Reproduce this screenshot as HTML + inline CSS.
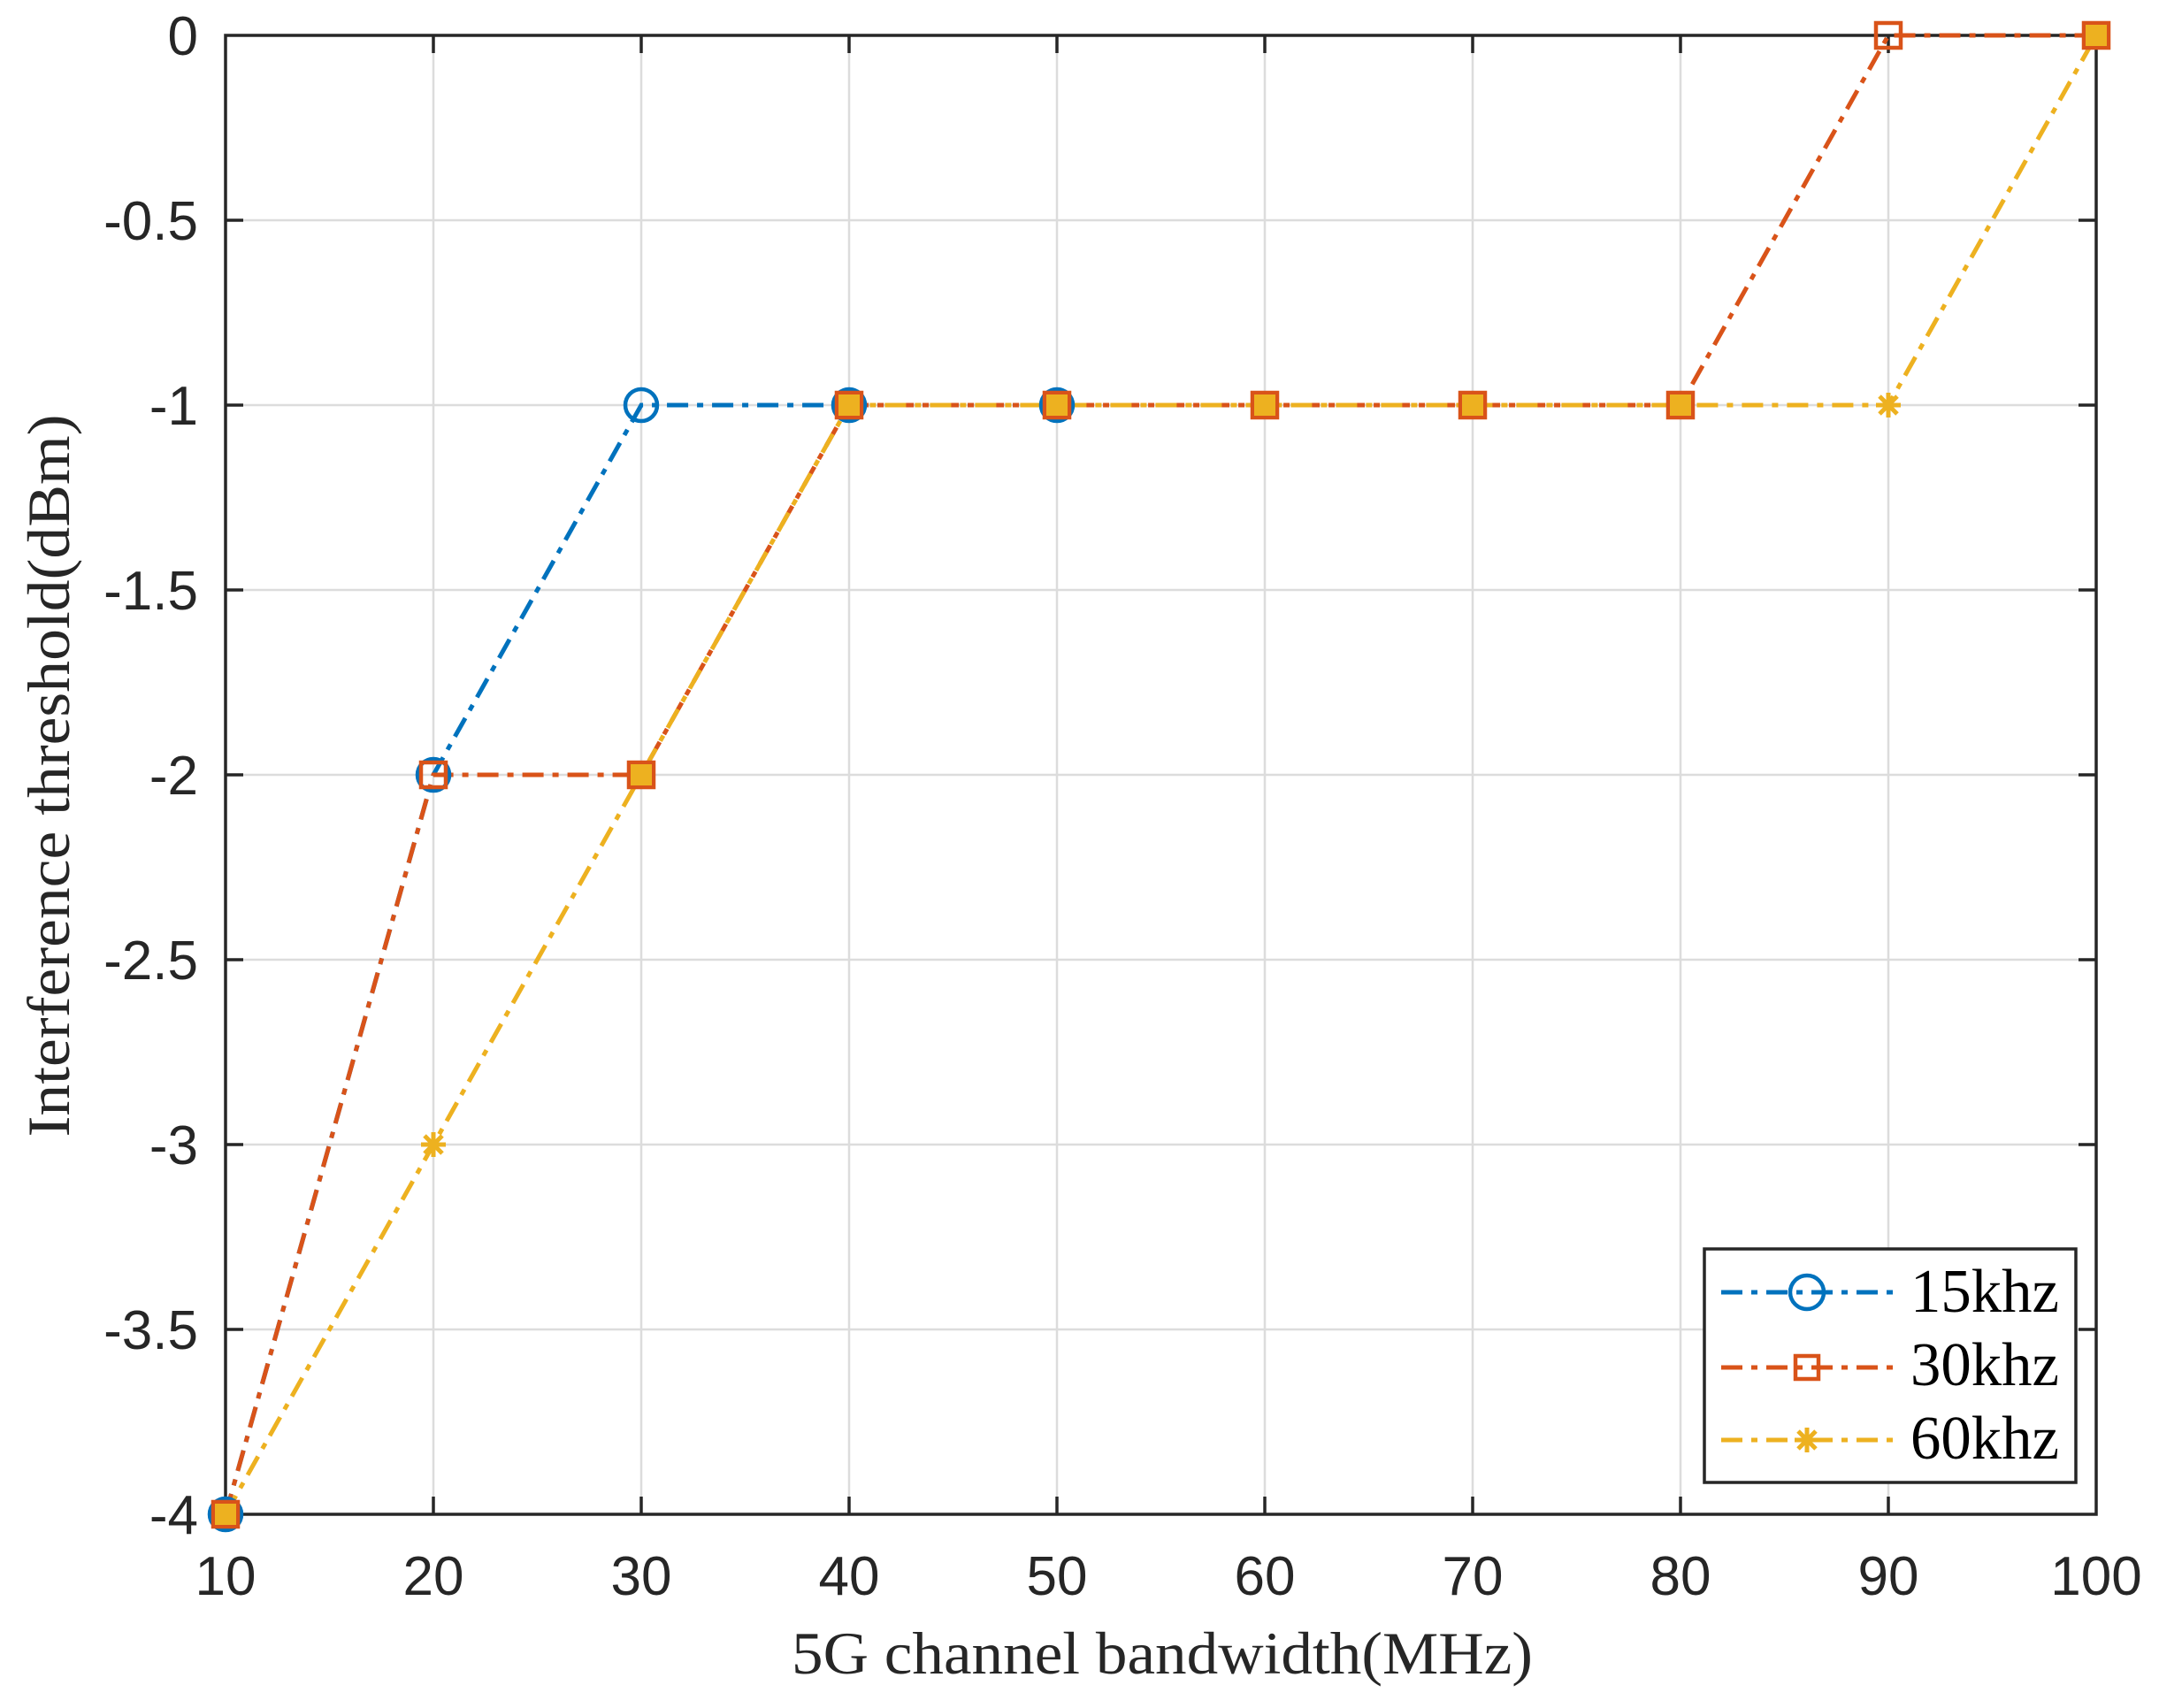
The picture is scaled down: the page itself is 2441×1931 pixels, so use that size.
<!DOCTYPE html>
<html><head><meta charset="utf-8"><style>html,body{margin:0;padding:0;background:#fff}svg{display:block}</style></head>
<body>
<svg width="2441" height="1931" viewBox="0 0 2441 1931" xmlns="http://www.w3.org/2000/svg">
<rect width="2441" height="1931" fill="#fff"/>
<g stroke="#dcdcdc" stroke-width="2.5">
<line x1="490" y1="40" x2="490" y2="1712"/><line x1="725" y1="40" x2="725" y2="1712"/><line x1="960" y1="40" x2="960" y2="1712"/><line x1="1195" y1="40" x2="1195" y2="1712"/><line x1="1430" y1="40" x2="1430" y2="1712"/><line x1="1665" y1="40" x2="1665" y2="1712"/><line x1="1900" y1="40" x2="1900" y2="1712"/><line x1="2135" y1="40" x2="2135" y2="1712"/>
<line x1="255" y1="249" x2="2370" y2="249"/><line x1="255" y1="458" x2="2370" y2="458"/><line x1="255" y1="667" x2="2370" y2="667"/><line x1="255" y1="876" x2="2370" y2="876"/><line x1="255" y1="1085" x2="2370" y2="1085"/><line x1="255" y1="1294" x2="2370" y2="1294"/><line x1="255" y1="1503" x2="2370" y2="1503"/>
</g>
<g stroke="#262626" stroke-width="3.5">
<rect x="255" y="40" width="2115" height="1672" fill="none"/>
<path d="M490 40v20M725 40v20M960 40v20M1195 40v20M1430 40v20M1665 40v20M1900 40v20M2135 40v20M490 1712v-20M725 1712v-20M960 1712v-20M1195 1712v-20M1430 1712v-20M1665 1712v-20M1900 1712v-20M2135 1712v-20"/>
<path d="M255 249h20M255 458h20M255 667h20M255 876h20M255 1085h20M255 1294h20M255 1503h20M2370 249h-20M2370 458h-20M2370 667h-20M2370 876h-20M2370 1085h-20M2370 1294h-20M2370 1503h-20"/>
</g>
<g font-family="Liberation Sans, sans-serif" font-size="62" fill="#262626" text-anchor="middle">
<text x="255" y="1803">10</text><text x="490" y="1803">20</text><text x="725" y="1803">30</text><text x="960" y="1803">40</text><text x="1195" y="1803">50</text><text x="1430" y="1803">60</text><text x="1665" y="1803">70</text><text x="1900" y="1803">80</text><text x="2135" y="1803">90</text><text x="2370" y="1803">100</text>
</g>
<g font-family="Liberation Sans, sans-serif" font-size="62" fill="#262626" text-anchor="end">
<text x="224" y="62">0</text><text x="224" y="271">-0.5</text><text x="224" y="480">-1</text><text x="224" y="689">-1.5</text><text x="224" y="898">-2</text><text x="224" y="1107">-2.5</text><text x="224" y="1316">-3</text><text x="224" y="1525">-3.5</text><text x="224" y="1734">-4</text>
</g>
<text x="895" y="1892" font-family="Liberation Serif, serif" font-size="68" fill="#262626" textLength="838" lengthAdjust="spacingAndGlyphs">5G channel bandwidth(MHz)</text>
<text transform="translate(78,877) rotate(-90)" text-anchor="middle" font-family="Liberation Serif, serif" font-size="68" fill="#262626" textLength="817" lengthAdjust="spacingAndGlyphs">Interference threshold(dBm)</text>
<g fill="none" stroke-width="5" stroke-dasharray="24,10,7,10">
<polyline stroke="#0072BD" points="255,1712 490,876 725,458 960,458 1195,458"/>
<polyline stroke="#D95319" points="255,1712 490,876 725,876 960,458 1195,458 1430,458 1665,458 1900,458 2135,40 2370,40"/>
<polyline stroke="#EDB120" points="255,1712 490,1294 725,876 960,458 1195,458 1430,458 1665,458 1900,458 2135,458 2370,40"/>
</g>
<g fill="none" stroke="#0072BD" stroke-width="4.5">
<circle cx="255" cy="1712" r="18"/><circle cx="490" cy="876" r="18"/><circle cx="725" cy="458" r="18"/><circle cx="960" cy="458" r="18"/><circle cx="1195" cy="458" r="18"/>
</g>
<g fill="none" stroke="#D95319" stroke-width="4.5">
<rect x="241" y="1698" width="28" height="28"/><rect x="476" y="862" width="28" height="28"/><rect x="711" y="862" width="28" height="28"/><rect x="946" y="444" width="28" height="28"/><rect x="1181" y="444" width="28" height="28"/><rect x="1416" y="444" width="28" height="28"/><rect x="1651" y="444" width="28" height="28"/><rect x="1886" y="444" width="28" height="28"/><rect x="2121" y="26" width="28" height="28"/><rect x="2356" y="26" width="28" height="28"/>
</g>
<g fill="#EDB120">
<rect x="243" y="1700" width="24" height="24"/><rect x="713" y="864" width="24" height="24"/><rect x="948" y="446" width="24" height="24"/><rect x="1183" y="446" width="24" height="24"/><rect x="1418" y="446" width="24" height="24"/><rect x="1653" y="446" width="24" height="24"/><rect x="1888" y="446" width="24" height="24"/><rect x="2358" y="28" width="24" height="24"/>
</g>
<g stroke="#EDB120" stroke-width="5">
<path d="M490 1280v28M476 1294h28M480 1284l20 20M500 1284l-20 20"/>
<path d="M2135 444v28M2121 458h28M2125 448l20 20M2145 448l-20 20"/>
</g>
<rect x="1927" y="1412" width="420" height="264" fill="#fff" stroke="#262626" stroke-width="3.5"/>
<g stroke-width="5" stroke-dasharray="24,10,7,10">
<line x1="1946" y1="1461" x2="2141" y2="1461" stroke="#0072BD"/>
<line x1="1946" y1="1546" x2="2141" y2="1546" stroke="#D95319"/>
<line x1="1946" y1="1628" x2="2141" y2="1628" stroke="#EDB120"/>
</g>
<circle cx="2043" cy="1461" r="19" fill="none" stroke="#0072BD" stroke-width="4.5"/>
<rect x="2030" y="1533" width="26" height="26" fill="none" stroke="#D95319" stroke-width="4.5"/>
<path d="M2043 1614v28M2029 1628h28M2033 1618l20 20M2053 1618l-20 20" stroke="#EDB120" stroke-width="5"/>
<g font-family="Liberation Serif, serif" font-size="70" fill="#000">
<text x="2160" y="1483" textLength="168" lengthAdjust="spacingAndGlyphs">15khz</text>
<text x="2160" y="1566" textLength="168" lengthAdjust="spacingAndGlyphs">30khz</text>
<text x="2160" y="1649" textLength="168" lengthAdjust="spacingAndGlyphs">60khz</text>
</g>
</svg>
</body></html>
